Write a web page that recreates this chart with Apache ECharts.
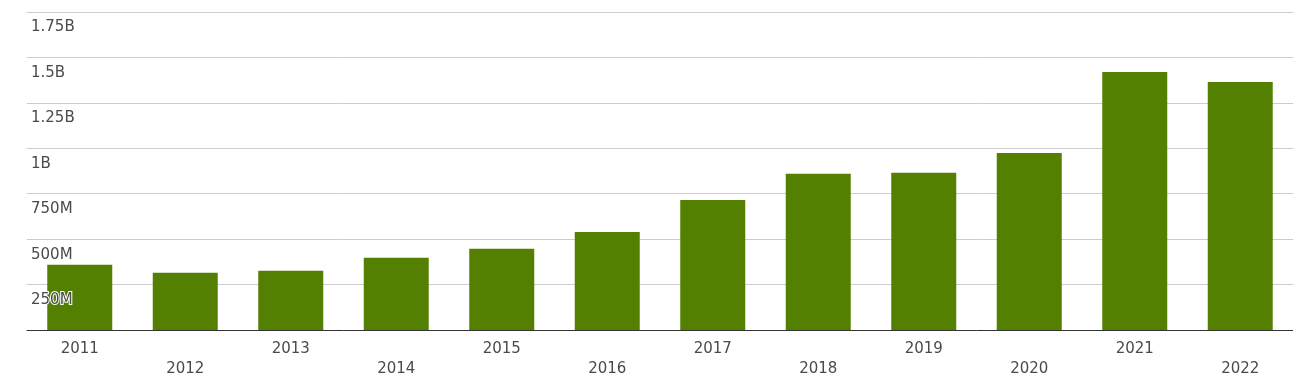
<!DOCTYPE html>
<html>
<head>
<meta charset="utf-8">
<script src="https://cdn.jsdelivr.net/npm/echarts@6/dist/echarts.min.js"></script>
<style>
html,body{margin:0;padding:0;background:#fff;}
#chart{width:1293px;height:384px;}
</style>
</head>
<body>
<div id="chart"></div>
<script>
var years = ['2011','2012','2013','2014','2015','2016','2017','2018','2019','2020','2021','2022'];
var values = [0.359e9, 0.315e9, 0.326e9, 0.398e9, 0.447e9, 0.539e9, 0.715e9, 0.860e9, 0.866e9, 0.974e9, 1.420e9, 1.365e9];
var tickValues = [0, 0.25e9, 0.5e9, 0.75e9, 1e9, 1.25e9, 1.5e9, 1.75e9];
var tickLabels = ['', '250M', '500M', '750M', '1B', '1.25B', '1.5B', '1.75B'];

var chart = echarts.init(document.getElementById('chart'));
chart.setOption({
  animation: false,
  grid: {left: 27, right: 0, top: 12, bottom: 54, containLabel: false},
  xAxis: {
    type: 'category',
    data: years,
    z: 5,
    axisLine: {lineStyle: {color: '#333', width: 1}},
    axisTick: {show: false},
    axisLabel: {
      interval: 0,
      color: '#4a4a4a',
      fontFamily: 'DejaVu Sans',
      fontSize: 15,
      lineHeight: 20,
      margin: 9,
      formatter: function (v, i) { return i % 2 ? '\n' + v : v; }
    }
  },
  yAxis: [{
    type: 'value',
    min: 0,
    max: 1.75e9,
    interval: 0.25e9,
    z: 0,
    axisLine: {show: false},
    axisTick: {show: false},
    axisLabel: {show: false},
    splitLine: {lineStyle: {color: '#ccc', width: 1}}
  }, {
    type: 'value',
    position: 'left',
    min: 0,
    max: 1.75e9,
    interval: 0.25e9,
    z: 10,
    axisLine: {show: false},
    axisTick: {show: false},
    splitLine: {show: false},
    axisLabel: {
      inside: true,
      margin: 4,
      color: '#4a4a4a',
      fontFamily: 'DejaVu Sans',
      fontSize: 15,
      verticalAlign: 'top',
      padding: [8, 0, 0, 0],
      textBorderColor: '#fff',
      textBorderWidth: 2,
      formatter: function (v) {
        var i = tickValues.indexOf(v);
        return i >= 0 ? tickLabels[i] : '';
      }
    }
  }],
  series: [{
    type: 'bar',
    yAxisIndex: 0,
    data: values,
    barCategoryGap: '38.4%',
    itemStyle: {color: '#538000'},
    z: 2
  }]
});
</script>
</body>
</html>
